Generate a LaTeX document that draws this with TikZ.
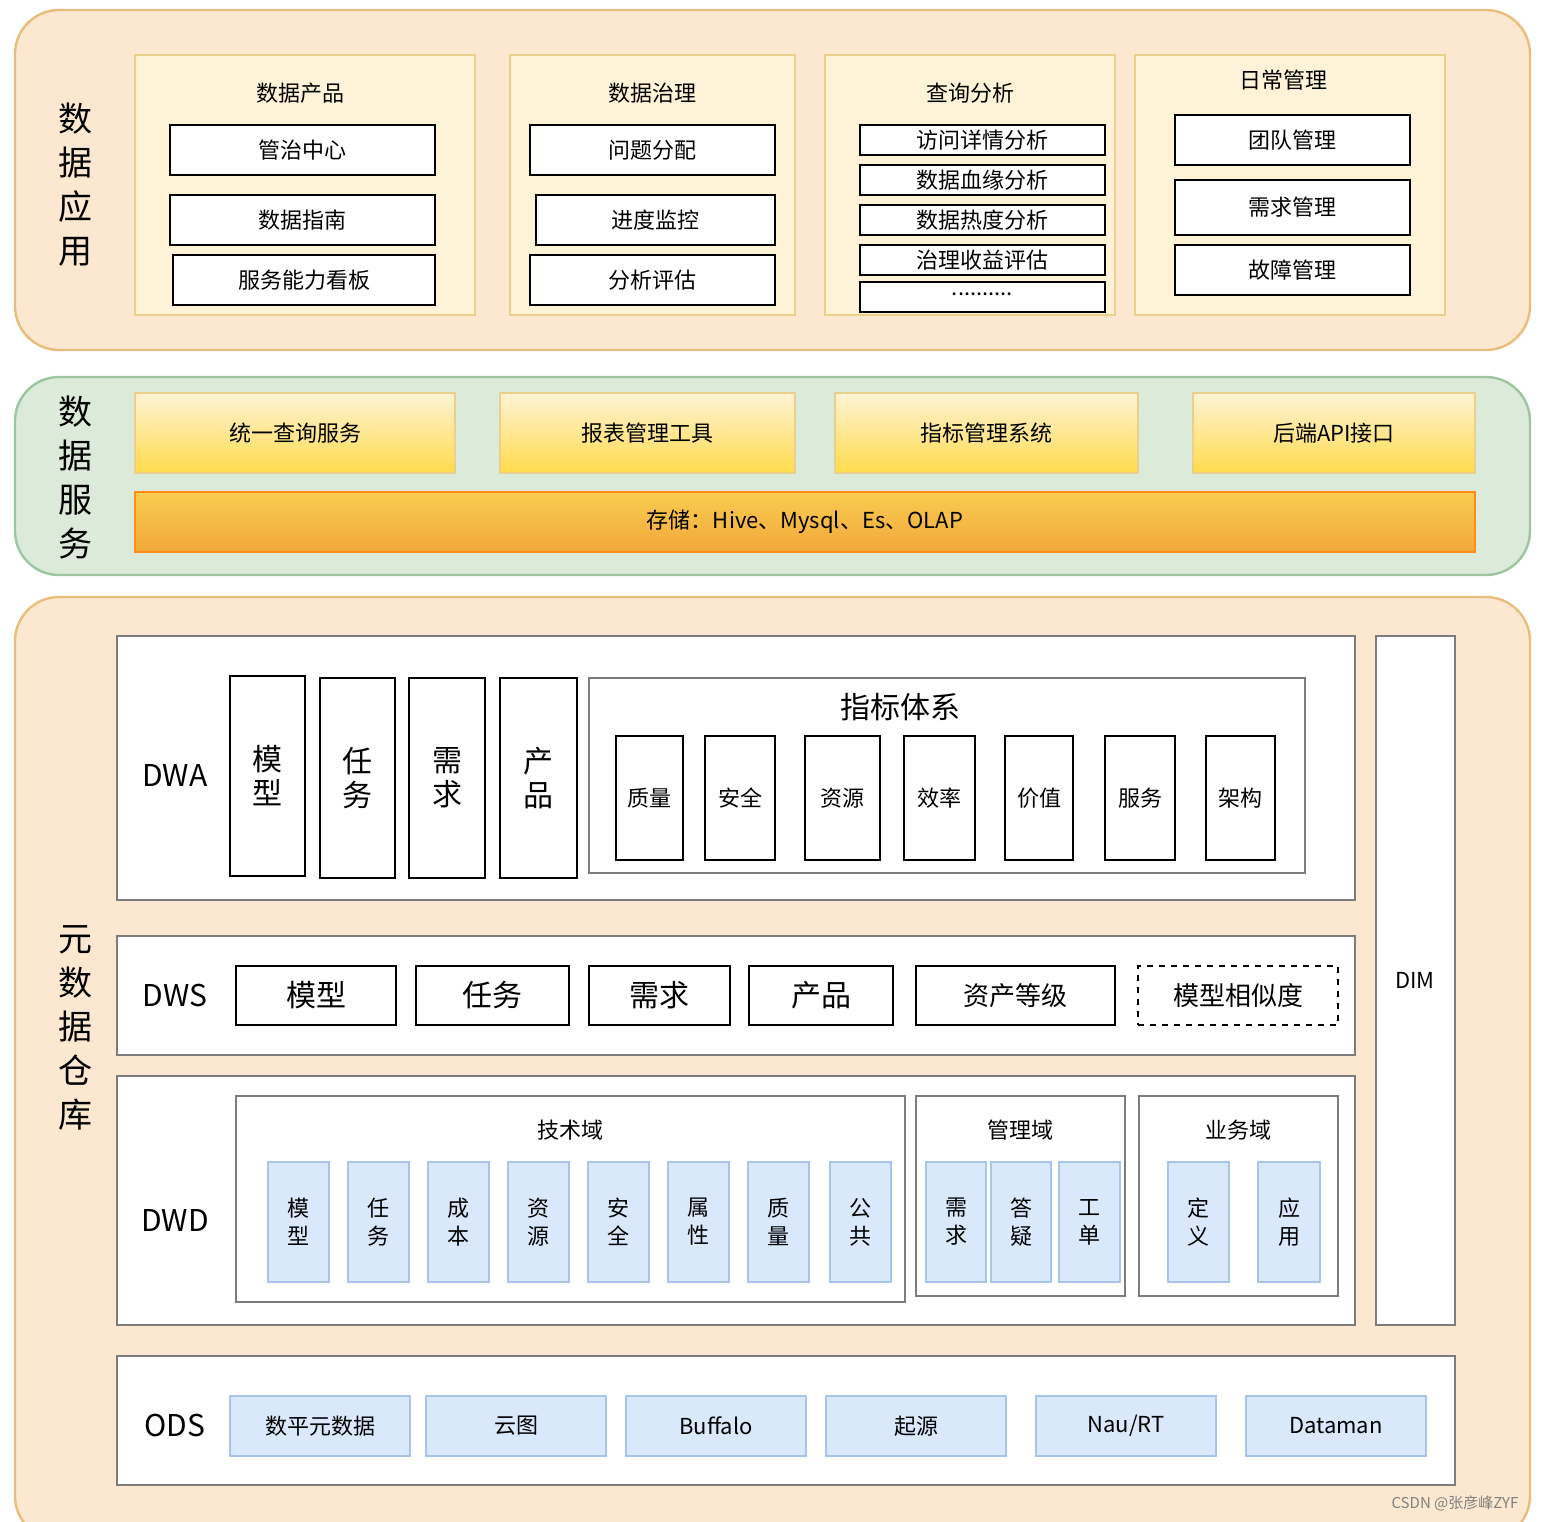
\documentclass[tikz,border=0pt]{standalone}
\usepackage{fontspec}
\setmainfont{Noto Sans CJK SC}
\definecolor{peach}{HTML}{FCE8D0}
\definecolor{peachb}{HTML}{E8BE7E}
\definecolor{grn}{HTML}{DCEAD9}
\definecolor{grnb}{HTML}{9CC5A0}
\definecolor{ylw}{HTML}{FEF3D6}
\definecolor{ylwb}{HTML}{EBD08C}
\definecolor{blu}{HTML}{DAE8FC}
\definecolor{blub}{HTML}{A9C4EB}
\definecolor{gb}{HTML}{444444}
\definecolor{ot}{HTML}{F9CC50}
\definecolor{obt}{HTML}{F2A83A}
\tikzset{
 wb/.style={draw=black,line width=1.2pt,fill=white,font=\fontsize{11}{13}\selectfont},
 panel/.style={draw=gb!70,line width=1.2pt,fill=white},
 yb/.style={draw=ylwb,line width=1pt,fill=ylw},
 gy/.style={draw=ylwb,line width=1pt,top color=ylw,bottom color=yellow!60!orange!70,font=\fontsize{11}{13}\selectfont},
 ob/.style={draw=orange!90,line width=1pt,top color=ot,bottom color=obt,font=\fontsize{11}{13}\selectfont},
 bb/.style={draw=blub,line width=1pt,fill=blu,font=\fontsize{11}{14}\selectfont,align=center},
 lay/.style={font=\fontsize{15}{17}\selectfont},
 side/.style={font=\fontsize{17}{22}\selectfont,align=center},
 ttl/.style={font=\fontsize{11}{13}\selectfont},
}
\newcommand\B[8][]{\pgfmathsetmacro\cx{(#4+#6)/2}\pgfmathsetmacro\cy{(#5+#7)/2}\pgfmathsetmacro\ww{(#6-#4)*0.5}\pgfmathsetmacro\hh{(#7-#5)*0.5}\node[#2,#1,inner sep=0pt,minimum width=\ww pt,minimum height=\hh pt] (#3) at (\cx,\cy) {#8};}
\begin{document}
\begin{tikzpicture}[x=0.5pt,y=-0.5pt]
\useasboundingbox (0,0) rectangle (1544,1522);
\fill[white] (0,0) rectangle (1544,1522);
\clip (0,0) rectangle (1544,1522);
% outer panels
\draw[draw=peachb,fill=peach,line width=1.2pt,rounded corners=22pt] (15,10) rectangle (1530,350);
\draw[draw=grnb,fill=grn,line width=1.2pt,rounded corners=22pt] (15,377) rectangle (1530,575);
\draw[draw=peachb,fill=peach,line width=1.2pt,rounded corners=22pt] (15,597) rectangle (1530,1540);
\node[side] (s1) at (75,185) {数\\据\\应\\用};
\node[side] (s2) at (75,478) {数\\据\\服\\务};
\node[side] (s3) at (75,1028) {元\\数\\据\\仓\\库};
% 数据应用
\B{yb}{g1}{135}{55}{475}{315}{}
\node[ttl] (t1) at (300,93) {数据产品};
\B{wb}{a1}{170}{125}{435}{175}{管治中心}
\B{wb}{a2}{170}{195}{435}{245}{数据指南}
\B{wb}{a3}{173}{255}{435}{305}{服务能力看板}
\B{yb}{g2}{510}{55}{795}{315}{}
\node[ttl] (t2) at (652,93) {数据治理};
\B{wb}{b1}{530}{125}{775}{175}{问题分配}
\B{wb}{b2}{536}{195}{775}{245}{进度监控}
\B{wb}{b3}{530}{255}{775}{305}{分析评估}
\B{yb}{g3}{825}{55}{1115}{315}{}
\node[ttl] (t3) at (970,93) {查询分析};
\B{wb}{c1}{860}{125}{1105}{155}{访问详情分析}
\B{wb}{c2}{860}{165}{1105}{195}{数据血缘分析}
\B{wb}{c3}{860}{205}{1105}{235}{数据热度分析}
\B{wb}{c4}{860}{245}{1105}{275}{治理收益评估}
\B{wb}{c5}{860}{282}{1105}{312}{\raisebox{0.5ex}{..........}}
\B{yb}{g4}{1135}{55}{1445}{315}{}
\node[ttl] (t4) at (1283,80) {日常管理};
\B{wb}{d1}{1175}{115}{1410}{165}{团队管理}
\B{wb}{d2}{1175}{180}{1410}{235}{需求管理}
\B{wb}{d3}{1175}{245}{1410}{295}{故障管理}
% 数据服务
\B{gy}{e1}{135}{393}{455}{473}{统一查询服务}
\B{gy}{e2}{500}{393}{795}{473}{报表管理工具}
\B{gy}{e3}{835}{393}{1138}{473}{指标管理系统}
\B{gy}{e4}{1193}{393}{1475}{473}{后端API接口}
\B{ob}{e5}{135}{492}{1475}{552}{存储：Hive、Mysql、Es、OLAP}
% DWA
\B{panel}{dwa}{117}{636}{1355}{900}{}
\node[lay] (ldwa) at (175,775) {DWA};
\B[lay,align=center]{wb}{w1}{230}{676}{305}{876}{模\\型}
\B[lay,align=center]{wb}{w2}{320}{678}{395}{878}{任\\务}
\B[lay,align=center]{wb}{w3}{409}{678}{485}{878}{需\\求}
\B[lay,align=center]{wb}{w4}{500}{678}{577}{878}{产\\品}
\B{panel}{zb}{589}{678}{1305}{873}{}
\node[lay] (tzb) at (900,707) {指标体系};
\B{wb}{z1}{616}{736}{683}{860}{质量}
\B{wb}{z2}{705}{736}{775}{860}{安全}
\B{wb}{z3}{805}{736}{880}{860}{资源}
\B{wb}{z4}{904}{736}{975}{860}{效率}
\B{wb}{z5}{1005}{736}{1073}{860}{价值}
\B{wb}{z6}{1105}{736}{1175}{860}{服务}
\B{wb}{z7}{1206}{736}{1275}{860}{架构}
% DIM
\B{panel}{dim}{1376}{636}{1455}{1325}{}
\node[ttl] (ldim) at (1415,980) {DIM};
% DWS
\B{panel}{dws}{117}{936}{1355}{1055}{}
\node[lay] (ldws) at (175,995) {DWS};
\B[lay]{wb}{s1b}{236}{966}{396}{1025}{模型}
\B[lay]{wb}{s2b}{416}{966}{569}{1025}{任务}
\B[lay]{wb}{s3b}{589}{966}{730}{1025}{需求}
\B[lay]{wb}{s4b}{749}{966}{893}{1025}{产品}
\B[font=\fontsize{13}{15}\selectfont]{wb}{s5b}{916}{966}{1115}{1025}{资产等级}
\B[font=\fontsize{13}{15}\selectfont,dashed]{wb}{s6b}{1138}{966}{1338}{1025}{模型相似度}
% DWD
\B{panel}{dwd}{117}{1076}{1355}{1325}{}
\node[lay] (ldwd) at (175,1220) {DWD};
\B{panel}{js}{236}{1096}{905}{1302}{}
\node[ttl] (tjs) at (570,1130) {技术域};
\B{bb}{j1}{268}{1162}{329}{1282}{模\\型}
\B{bb}{j2}{348}{1162}{409}{1282}{任\\务}
\B{bb}{j3}{428}{1162}{489}{1282}{成\\本}
\B{bb}{j4}{508}{1162}{569}{1282}{资\\源}
\B{bb}{j5}{588}{1162}{649}{1282}{安\\全}
\B{bb}{j6}{668}{1162}{729}{1282}{属\\性}
\B{bb}{j7}{748}{1162}{809}{1282}{质\\量}
\B{bb}{j8}{830}{1162}{891}{1282}{公\\共}
\B{panel}{gl}{916}{1096}{1125}{1296}{}
\node[ttl] (tgl) at (1020,1130) {管理域};
\B{bb}{m1}{926}{1162}{986}{1282}{需\\求}
\B{bb}{m2}{991}{1162}{1051}{1282}{答\\疑}
\B{bb}{m3}{1059}{1162}{1120}{1282}{工\\单}
\B{panel}{yw}{1139}{1096}{1338}{1296}{}
\node[ttl] (tyw) at (1238,1130) {业务域};
\B{bb}{y1}{1168}{1162}{1229}{1282}{定\\义}
\B{bb}{y2}{1258}{1162}{1320}{1282}{应\\用}
% ODS
\B{panel}{ods}{117}{1356}{1455}{1485}{}
\node[lay] (lods) at (175,1425) {ODS};
\B{bb}{o1}{230}{1396}{410}{1456}{数平元数据}
\B{bb}{o2}{426}{1396}{606}{1456}{云图}
\B{bb}{o3}{626}{1396}{806}{1456}{Buffalo}
\B{bb}{o4}{826}{1396}{1006}{1456}{起源}
\B{bb}{o5}{1036}{1396}{1216}{1456}{Nau/RT}
\B{bb}{o6}{1246}{1396}{1426}{1456}{Dataman}
\node[font=\fontsize{7.5}{9}\selectfont,text=gray] (wm) at (1455,1503) {CSDN @张彦峰ZYF};
\end{tikzpicture}
\end{document}
